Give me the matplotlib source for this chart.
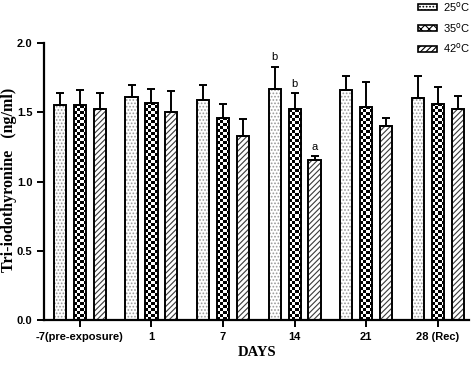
import numpy as np
import matplotlib
matplotlib.use("Agg")
import matplotlib.pyplot as plt
from matplotlib.patches import Rectangle

categories = ["-7(pre-exposure)", "1", "7", "14", "21", "28 (Rec)"]
series_names = ["25$^{\\mathrm{o}}$C", "35$^{\\mathrm{o}}$C", "42$^{\\mathrm{o}}$C"]
means_25 = [1.55, 1.61, 1.59, 1.67, 1.66, 1.60]
means_35 = [1.55, 1.57, 1.46, 1.52, 1.54, 1.56]
means_42 = [1.52, 1.50, 1.33, 1.155, 1.40, 1.52]
err_25 = [0.09, 0.09, 0.11, 0.16, 0.10, 0.16]
err_35 = [0.11, 0.10, 0.10, 0.12, 0.18, 0.12]
err_42 = [0.12, 0.15, 0.12, 0.03, 0.06, 0.10]
letters = [(3, 0, "b"), (3, 1, "b"), (3, 2, "a")]
yticks = [0.0, 0.5, 1.0, 1.5, 2.0]

plt.rcParams['hatch.linewidth'] = 0.8

fig = plt.figure(figsize=(4.74, 3.69), dpi=100)
ax = fig.add_axes([0.093, 0.1328, 0.897, 0.7506])

x = np.arange(len(categories))
width = 0.17
offs = [-0.278, 0.0, 0.278]
means = [means_25, means_35, means_42]
errs = [err_25, err_35, err_42]
hatches = ['.....', None, '//////']
hcolors = ['#9a9a9a', 'black', '#3a3a3a']

all_bars = []
for i in range(3):
    xs = x + offs[i]
    if hatches[i] is not None:
        ax.bar(xs, means[i], width, color='white', edgecolor=hcolors[i],
               hatch=hatches[i], linewidth=0, zorder=2)
    bars = ax.bar(xs, means[i], width, fill=False, edgecolor='black',
                  linewidth=1.4, zorder=4)
    all_bars.append(bars)
    ax.errorbar(xs, means[i], yerr=[np.zeros(len(xs)), errs[i]], fmt='none',
                ecolor='black', elinewidth=1.4, capsize=3, capthick=1.4, zorder=3)

# checkerboard fill for 35C bars
ppu = 138.5
for rect in all_bars[1]:
    bx, by, bw, bh = rect.get_x(), rect.get_y(), rect.get_width(), rect.get_height()
    nrows = max(1, int(round(bh * ppu / 3.0)))
    ncols = 4
    checker = (np.add.outer(np.arange(nrows), np.arange(ncols)) % 2).astype(float)
    im = ax.imshow(checker, cmap='gray', vmin=0, vmax=1, extent=[bx, bx + bw, by, by + bh],
                   aspect='auto', interpolation='nearest', zorder=2.5)
    im.set_clip_path(rect)

for gi, si, txt in letters:
    ax.annotate(txt, (x[gi] + offs[si], means[si][gi] + errs[si][gi]),
                xytext=(0, 3), textcoords='offset points', ha='center', va='bottom',
                fontsize=8, family='Liberation Sans')

ax.set_xlim(-0.5, 5.44)
ax.set_ylim(0, 2.0)
ax.set_yticks(yticks)
ax.set_yticklabels([f"{t:.1f}" for t in yticks])
ax.set_xticks(x)
ax.set_xticklabels(categories)
for sp in ['top', 'right']:
    ax.spines[sp].set_visible(False)
for sp in ['left', 'bottom']:
    ax.spines[sp].set_linewidth(1.6)
ax.tick_params(width=1.4, length=5, labelsize=8)
for lab in ax.get_xticklabels() + ax.get_yticklabels():
    lab.set_fontweight('bold')
    lab.set_family('Liberation Sans')

fig.text(9 / 474, 1 - 180 / 369, "Tri-iodothyronine   (ng/ml)", rotation=90, ha='center', va='center',
         family='Liberation Serif', fontweight='bold', fontsize=11.5)
ax.set_xlabel("DAYS", family='Liberation Serif', fontweight='bold', fontsize=10.5, labelpad=3)

handles = [Rectangle((0, 0), 1, 1, facecolor='white', edgecolor='black', hatch='.....', linewidth=1.2),
           Rectangle((0, 0), 1, 1, facecolor='white', edgecolor='black', hatch='xxxx', linewidth=1.2),
           Rectangle((0, 0), 1, 1, facecolor='white', edgecolor='black', hatch='//////', linewidth=1.2)]
leg = ax.legend(handles, series_names, loc='upper left', bbox_to_anchor=(0.872, 1.012),
                bbox_transform=fig.transFigure, frameon=False, handlelength=1.7, handleheight=0.45,
                labelspacing=0.6, handletextpad=0.6, borderaxespad=0, prop={'family': 'Liberation Sans', 'size': 8})

fig.savefig("out.png", dpi=100)
